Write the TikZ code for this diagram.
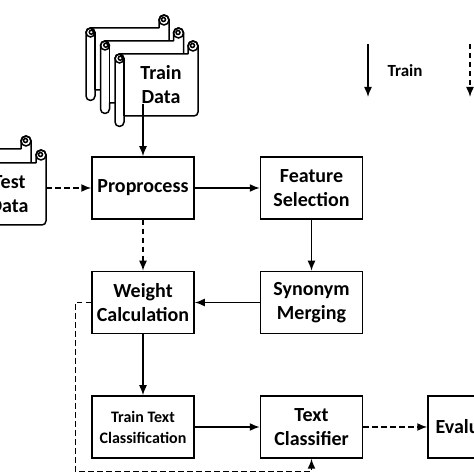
\documentclass[tikz,border=0pt]{standalone}
\usepackage{fontspec}
\setmainfont{Carlito}
\usetikzlibrary{positioning, arrows.meta}
\tikzset{
>={Latex[width=8pt,length=10pt]},
every node/.append style={font=\fontsize{20}{24}\selectfont\bfseries},
box/.style={draw, line width=1.5pt, minimum width=102pt, minimum height=62pt, align=center},
flow/.style={->, line width=1.5pt},
testflow/.style={->, line width=1.5pt, dash pattern=on 5.5pt off 3.5pt},
scroll/.pic={
    \filldraw[fill=white, line width=1.5pt, line join=round]
        (0,-4.5) -- (0,-68) arc (180:360:4.5) -- (9,-62) -- (79,-62) arc (-90:0:4)
        -- (83,8) arc (0:180:5) -- (73,0) -- (4.5,0) arc (90:180:4.5) -- cycle;
    \draw[line width=1.5pt] (9,-4.5) -- (9,-62);
    \draw[line width=1.5pt] (4.5,-4.5) circle (4.5) (5.3,-4.2) circle (2);
    \draw[line width=1.5pt] (78,8) circle (5) (77.5,8.5) circle (2);
    \coordinate (-mid) at (46,-31);
    \coordinate (-out) at (28,-50);
    \coordinate (-east) at (83,-31);
},
}

\begin{document}
\begin{tikzpicture}[x=1pt,y=1pt]
\useasboundingbox (0,0) rectangle (474,474);
\clip (0,0) rectangle (474,474);

% data documents
\pic at (86,446) {scroll};
\pic at (100.5,433) {scroll};
\pic (train) at (115,420) {scroll};
\node[align=center] (traintext) at (train-mid) {Train\\Data};

\pic at (-52,325) {scroll};
\pic (test) at (-37,311) {scroll};
\node[align=center] (testtext) at (test-mid) {Test\\Data};

% blocks
\node[box] (proprocess) at (143,286) {Proprocess};
\node[box, right=65pt of proprocess] (feature) {Feature\\Selection};
\node[box, below=51pt of feature] (synonym) {Synonym\\Merging};
\node[box, below=51pt of proprocess] (weight) {Weight\\Calculation};
\node[box, below=61pt of weight, font=\fontsize{16}{21}\selectfont\bfseries] (traincls) {Train Text\\Classification};
\node[box, right=65pt of traincls] (textcls) {Text\\Classifier};
\node[box, right=64pt of textcls] (evaluation) {Evaluation};

% legend
\coordinate (solidtop) at (368,430);
\coordinate (solidend) at (368,377);
\coordinate (dashtop) at (470,430);
\coordinate (dashend) at (470,377);
\node[font=\fontsize{17}{20}\selectfont\bfseries] (trainlabel) at (405,403) {Train};
\draw[flow] (solidtop) -- (solidend);
\draw[testflow] (dashtop) -- (dashend);

% train path
\draw[flow] (train-out) -- (proprocess);
\draw[flow] (proprocess) -- (feature);
\draw[flow] (feature) -- (synonym);
\draw[flow] (synonym) -- (weight);
\draw[flow] (weight) -- (traincls);
\draw[flow] (traincls) -- (textcls);

% test path
\draw[testflow] (test-east |- proprocess) -- (proprocess);
\draw[testflow] (proprocess) -- (weight);
\draw[testflow] (weight.west) -- ++(-16,0) -- ++(0,-169) -| (textcls.south);
\draw[testflow] (textcls) -- (evaluation);
\end{tikzpicture}
\end{document}
